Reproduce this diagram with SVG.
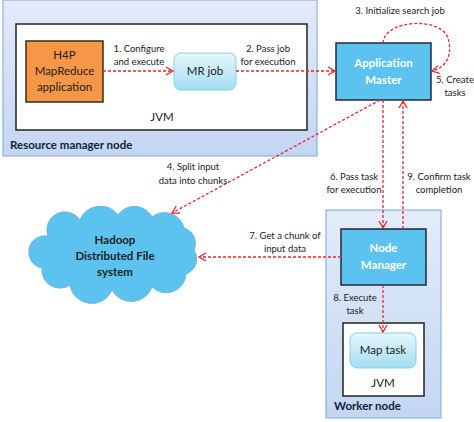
<svg xmlns="http://www.w3.org/2000/svg" width="474" height="422" viewBox="0 0 474 422">
<defs>
<linearGradient id="bg" x1="0" y1="0" x2="0" y2="1"><stop offset="0" stop-color="#E3ECFA"/><stop offset="1" stop-color="#C3D6F2"/></linearGradient>
<linearGradient id="task" x1="0" y1="0" x2="0" y2="1"><stop offset="0" stop-color="#E6F8FD"/><stop offset="1" stop-color="#A3DDF2"/></linearGradient>
<marker id="ah" markerWidth="10" markerHeight="10" refX="8" refY="5" orient="auto" markerUnits="userSpaceOnUse"><path d="M1,1 L8,5 L1,9" fill="none" stroke="#E8262B" stroke-width="1.3"/></marker>
<style>
.region{fill:url(#bg);stroke:#8FB1DE;stroke-width:1.2}
.jvm{fill:#fff;stroke:#222;stroke-width:1.5}
.mgr{fill:#5CC3F1;stroke:#1F2A36;stroke-width:1.5}
.task{fill:url(#task);stroke:#8CCBE3;stroke-width:1}
.t{font-family:Lato,"Liberation Sans",sans-serif;font-size:9.5px;fill:#222;text-anchor:middle}
.tl{font-family:Lato,"Liberation Sans",sans-serif;font-size:11.5px;fill:#222;text-anchor:middle}
.b{font-family:Lato,"Liberation Sans",sans-serif;font-size:11.5px;font-weight:bold;fill:#13233B}
.w{font-family:Lato,"Liberation Sans",sans-serif;font-size:11.5px;font-weight:bold;fill:#fff;text-anchor:middle}
.c{fill:none;stroke:#E8262B;stroke-width:1.3;stroke-dasharray:3,2;marker-end:url(#ah)}
</style>
</defs>
<g id="resource-manager-node">
<rect class="region" x="3" y="0" width="314" height="156"/>
<rect class="jvm" x="16" y="24" width="291" height="106"/>
<text class="tl" x="162" y="121">JVM</text>
<text class="b" x="10" y="149">Resource manager node</text>
</g>
<g id="worker-node">
<rect class="region" x="326" y="210" width="115" height="208"/>
<rect class="jvm" x="343" y="323" width="81" height="73"/>
<text class="tl" x="383" y="387">JVM</text>
<text class="b" x="334" y="410">Worker node</text>
</g>
<g id="h4p">
<rect x="26" y="41" width="77" height="61" fill="#F79646" stroke="#3A2A1A" stroke-width="1.5"/>
<text class="tl" x="64.5" y="59">H4P</text>
<text class="tl" x="64.5" y="75">MapReduce</text>
<text class="tl" x="64.5" y="91">application</text>
</g>
<g id="mr-job">
<rect class="task" x="174" y="53" width="62" height="37" rx="7"/>
<text class="tl" x="205" y="75">MR job</text>
</g>
<g id="application-master">
<rect class="mgr" x="336" y="43" width="95" height="57"/>
<text class="w" x="383.5" y="67">Application</text>
<text class="w" x="383.5" y="84">Master</text>
</g>
<g id="hdfs">
<path d="M48,236 A18,18 0 0 1 80,220 A22,22 0 0 1 118,215 A20,20 0 0 1 152,217 A20,20 0 0 1 184,228 A16,16 0 0 1 194,250 A16,16 0 0 1 186,274 A20,20 0 0 1 152,287 A22,22 0 0 1 112,290 A22,22 0 0 1 70,285 A18,18 0 0 1 42,268 A16,16 0 0 1 48,236 Z" fill="#5CC3F1" stroke="#6FB6DA" stroke-width="1"/>
<text class="tl" x="115" y="244" font-weight="bold" fill="#13233B">Hadoop</text>
<text class="tl" x="115" y="260" font-weight="bold" fill="#13233B">Distributed File</text>
<text class="tl" x="115" y="276" font-weight="bold" fill="#13233B">system</text>
</g>
<g id="node-manager">
<rect class="mgr" x="341" y="229" width="85" height="56"/>
<text class="w" x="383.5" y="252">Node</text>
<text class="w" x="383.5" y="269">Manager</text>
</g>
<g id="map-task">
<rect class="task" x="350" y="333" width="66" height="35" rx="7"/>
<text class="tl" x="383" y="354">Map task</text>
</g>
<g id="connectors">
<path class="c" d="M103,71 L173,71"/>
<path class="c" d="M236,71 L335,71"/>
<path class="c" d="M383,43 C384,20 440,16 448,38 C453,55 446,68 432,71"/>
<path class="c" d="M380,100 L172,213"/>
<path class="c" d="M383,100 L383,228"/>
<path class="c" d="M403,229 L403,101"/>
<path class="c" d="M341,257 L199,257"/>
<path class="c" d="M383,285 L383,332"/>
</g>
<g id="labels">
<text class="t" x="139" y="52">1. Configure</text>
<text class="t" x="139" y="65">and execute</text>
<text class="t" x="268" y="52">2. Pass job</text>
<text class="t" x="268" y="65">for execution</text>
<text class="t" x="400" y="14">3. Initialize search job</text>
<text class="t" x="455" y="83">5. Create</text>
<text class="t" x="455" y="96">tasks</text>
<text class="t" x="193" y="170">4. Split input</text>
<text class="t" x="193" y="184">data into chunks</text>
<text class="t" x="354" y="180">6. Pass task</text>
<text class="t" x="354" y="193">for execution</text>
<text class="t" x="439" y="180">9. Confirm task</text>
<text class="t" x="439" y="193">completion</text>
<text class="t" x="285" y="239">7. Get a chunk of</text>
<text class="t" x="285" y="252">input data</text>
<text class="t" x="355" y="301">8. Execute</text>
<text class="t" x="355" y="314">task</text>
</g>
</svg>
